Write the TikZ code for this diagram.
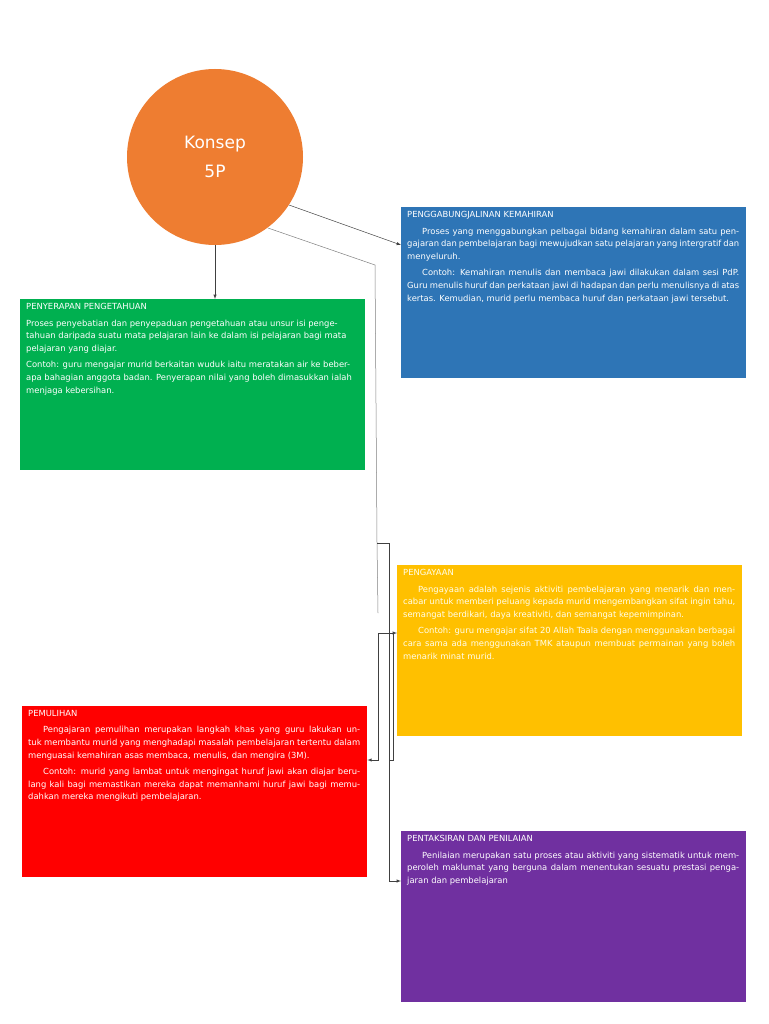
\documentclass[tikz,border=0pt]{standalone}
\usepackage{fontspec}
\setmainfont{DejaVu Sans}
\usepackage{ragged2e}
\usetikzlibrary{calc}
\definecolor{corange}{HTML}{EE7D31}
\definecolor{cblue}{HTML}{2E75B6}
\definecolor{cgreen}{HTML}{00B050}
\definecolor{cyellow}{HTML}{FFC000}
\definecolor{cred}{HTML}{FF0000}
\definecolor{cpurple}{HTML}{7030A0}
\begin{document}
\begin{tikzpicture}[x=1pt,y=-1pt,
 box/.style={draw=none,minimum width=345pt,minimum height=171pt,anchor=north west,inner sep=0pt},
 txt/.style={anchor=north west,text=white,text width=332pt,inner sep=0pt,font=\fontsize{8.4}{12.6}\selectfont,align=justify},
 conn/.style={draw=black!75,line width=0.5pt},
 arr/.style={conn,-latex}]
\useasboundingbox (0,0) rectangle (768,1024);
\fill[white] (0,0) rectangle (768,1024);
\node[circle,fill=corange,minimum size=176pt,inner sep=0pt,text=white,align=center,font=\fontsize{17}{29}\selectfont] (c) at (215,157) {Konsep\\5P};
\node[box,fill=cblue] (b) at (401,207) {};
\node[box,fill=cgreen] (g) at (20,299) {};
\node[box,fill=cyellow] (y) at (397,565) {};
\node[box,fill=cred] (r) at (22,706) {};
\node[box,fill=cpurple] (p) at (401,831) {};

\node[txt] at ($(b.north west)+(6,4)$) {\justifying PENGGABUNGJALINAN KEMAHIRAN\par\vspace{4pt}
Proses yang menggabungkan pelbagai bidang kemahiran dalam satu pengajaran dan pembelajaran bagi mewujudkan satu pelajaran yang intergratif dan menyeluruh.\par\vspace{4pt}
Contoh: Kemahiran menulis dan membaca jawi dilakukan dalam sesi PdP. Guru menulis huruf dan perkataan jawi di hadapan dan perlu menulisnya di atas kertas. Kemudian, murid perlu membaca huruf dan perkataan jawi tersebut.};
\node[txt] at ($(g.north west)+(6,4)$) {\RaggedRight PENYERAPAN PENGETAHUAN\par\vspace{4pt}
Proses penyebatian dan penyepaduan pengetahuan atau unsur isi pengetahuan daripada suatu mata pelajaran lain ke dalam isi pelajaran bagi mata pelajaran yang diajar.\par\vspace{4pt}
Contoh: guru mengajar murid berkaitan wuduk iaitu meratakan air ke beberapa bahagian anggota badan. Penyerapan nilai yang boleh dimasukkan ialah menjaga kebersihan.};
\node[txt,text=white!92!yellow] at ($(y.north west)+(6,4)$) {\justifying PENGAYAAN\par\vspace{4pt}
Pengayaan adalah sejenis aktiviti pembelajaran yang menarik dan mencabar untuk memberi peluang kepada murid mengembangkan sifat ingin tahu, semangat berdikari, daya kreativiti, dan semangat kepemimpinan.\par\vspace{4pt}
Contoh: guru mengajar sifat 20 Allah Taala dengan menggunakan berbagai cara sama ada menggunakan TMK ataupun membuat permainan yang boleh menarik minat murid.};
\node[txt] at ($(r.north west)+(6,4)$) {\justifying PEMULIHAN\par\vspace{4pt}
Pengajaran pemulihan merupakan langkah khas yang guru lakukan untuk membantu murid yang menghadapi masalah pembelajaran tertentu dalam menguasai kemahiran asas membaca, menulis, dan mengira (3M).\par\vspace{4pt}
Contoh: murid yang lambat untuk mengingat huruf jawi akan diajar berulang kali bagi memastikan mereka dapat memanhami huruf jawi bagi memudahkan mereka mengikuti pembelajaran.};
\node[txt] at ($(p.north west)+(6,4)$) {\justifying PENTAKSIRAN DAN PENILAIAN\par\vspace{4pt}
Penilaian merupakan  satu proses atau aktiviti yang sistematik untuk memperoleh maklumat yang berguna dalam menentukan sesuatu prestasi pengajaran dan pembelajaran};

\coordinate (j1) at (375,265);
\coordinate (j2) at (377,543);
\coordinate (j3) at (389,543);
\coordinate (e1) at (378,613);
\coordinate (k1) at (378,633);
\coordinate (k2) at (378,760);
\coordinate (k3) at (389,760);
\coordinate (k4) at (393,760);
\draw[arr] (c.east |- 0,205) ++(0,0) (289,205) -- (b.west |- 0,245);
\draw[arr] (c.south) -- (c.south |- g.north);
\draw[conn,draw=black!50] (268,228) -- (j1) -- (j2) -- (e1);
\draw[arr] (j2) -- (j3) |- (p.west |- 0,881);
\draw[arr] (393,633) -- (k1) -- (k2) -- (r.east |- k2);
\draw[arr] (k3) -- (k4) |- (y.west |- 0,633);
\end{tikzpicture}
\end{document}
